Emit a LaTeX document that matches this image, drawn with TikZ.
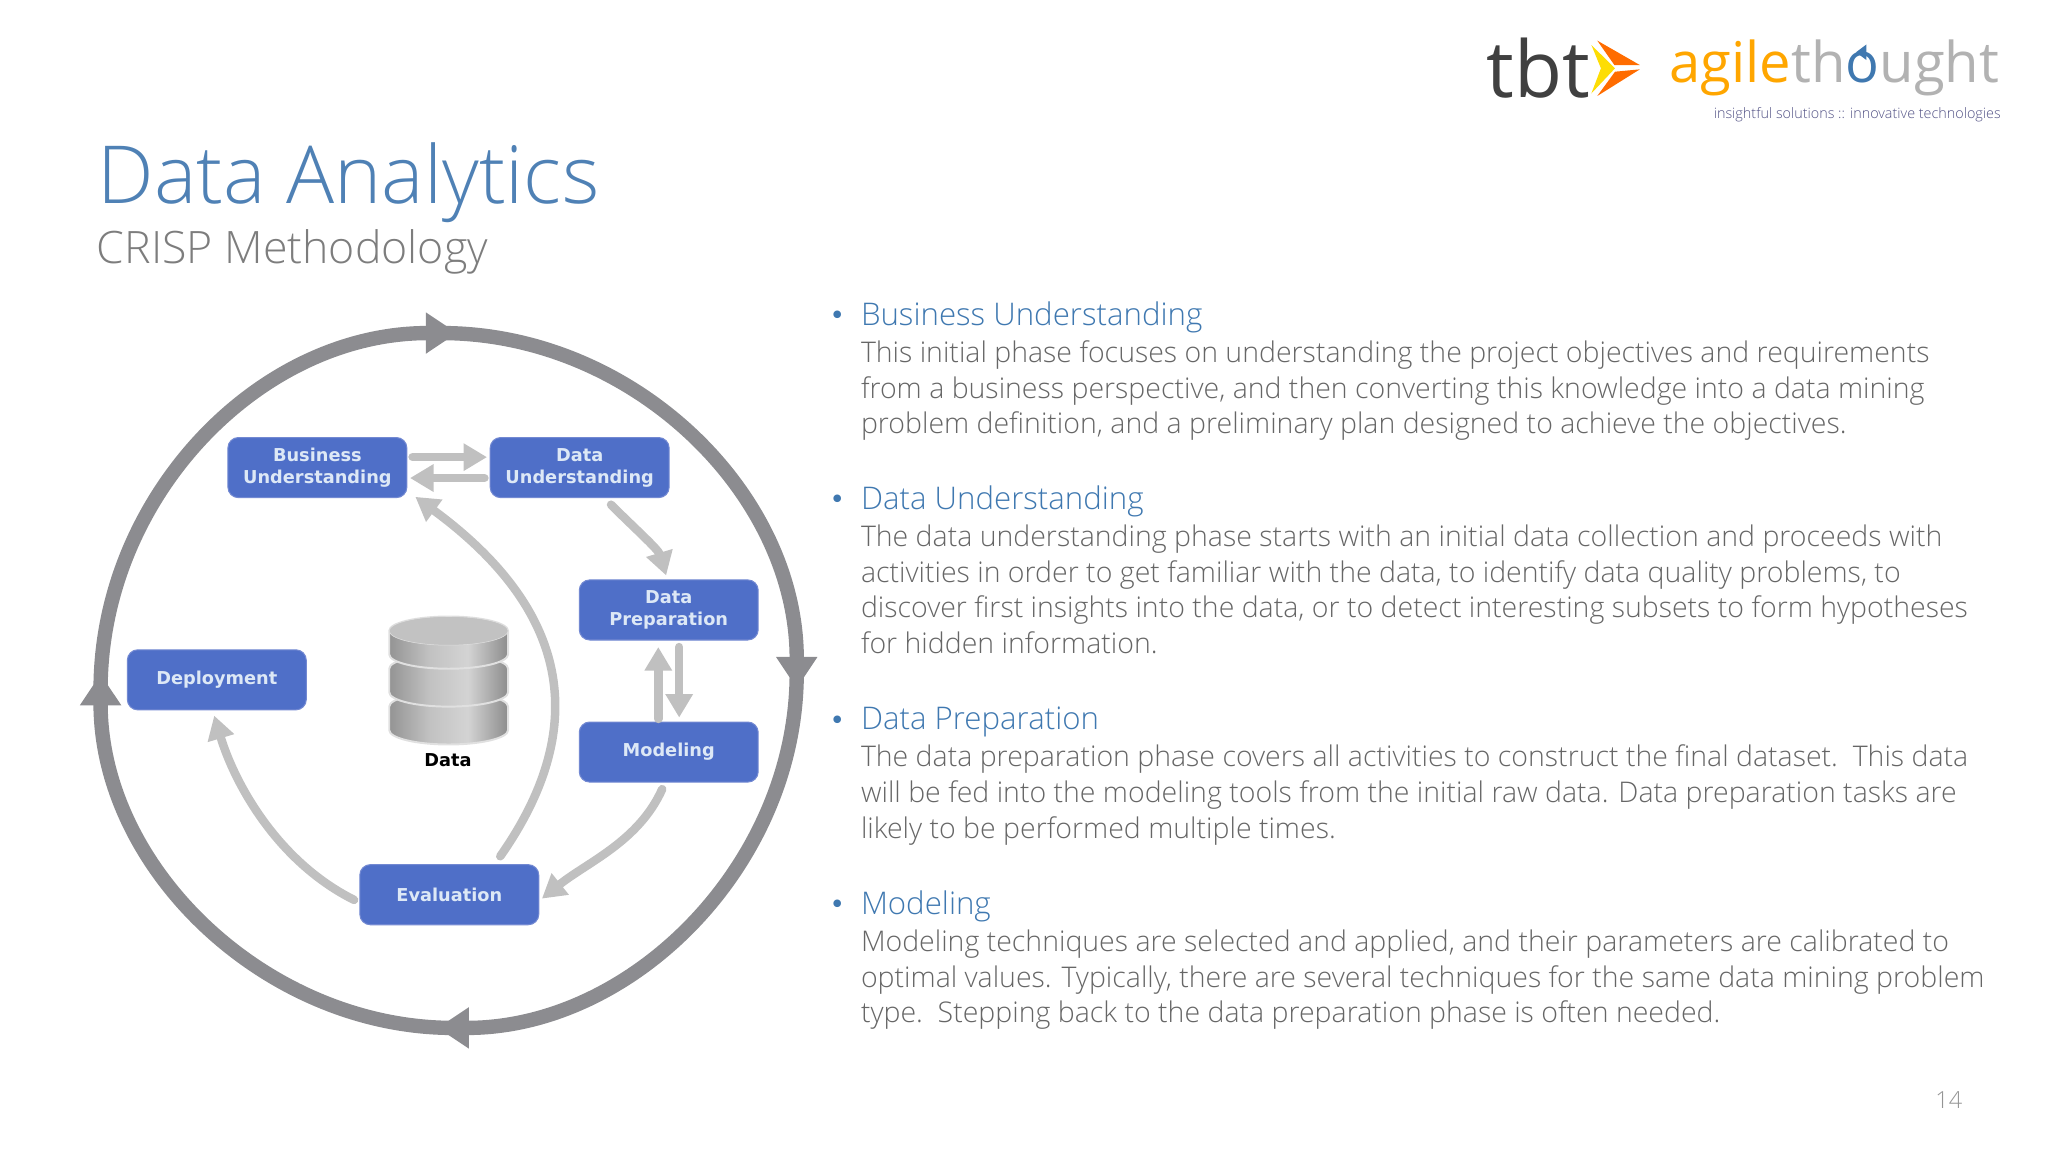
\documentclass[tikz,border=0pt]{standalone}
\usepackage{fontspec}
\setmainfont{Open Sans Light}
\newfontfamily\boxfont{DejaVu Sans}
\newfontfamily\logofont{Open Sans}
\usetikzlibrary{arrows.meta,positioning,calc}
\definecolor{ringgray}{HTML}{8C8C90}
\definecolor{flowgray}{HTML}{C0C0C0}
\definecolor{phaseblue}{HTML}{4F6FC8}
\definecolor{phaseedge}{HTML}{7389D2}
\definecolor{phasetext}{HTML}{DDE8F6}
\definecolor{titleblue}{HTML}{4F81B5}
\definecolor{headblue}{HTML}{3F78B0}
\definecolor{bodygray}{HTML}{666666}
\pgfdeclarehorizontalshading{drum}{100bp}{color(0bp)=(black!42); color(25bp)=(black!42); color(42bp)=(black!24); color(58bp)=(black!17); color(75bp)=(black!45); color(100bp)=(black!45)}
\tikzset{
    every node/.style={font=\rmfamily},
    phase/.style={draw=phaseedge,fill=phaseblue,rounded corners=8pt,thick,
        minimum width=137pt,minimum height=46pt,inner sep=0pt,align=center,
        text=phasetext,font=\boxfont\bfseries\fontsize{13.6}{17}\selectfont},
    drumband/.style={shade,shading=drum,draw=black!12,line width=1.5pt},
    topichead/.style={anchor=west,inner sep=0pt,text=headblue,font=\fontsize{23.9}{30}\selectfont},
    topicbody/.style={anchor=north west,inner sep=0pt,align=left,text=bodygray,font=\fontsize{21.8}{27.3}\selectfont},
    topicdot/.style={inner sep=0pt,text=headblue,font=\boxfont\fontsize{20}{24}\selectfont},
    ringarrow/.style={draw=ringgray,line width=11pt,-{Triangle[length=24pt,width=30pt]}},
    flow/.style={draw=flowgray,line width=6.5pt,line cap=round,-{Triangle[length=18pt,width=20pt]}}
}
\begin{document}
\begin{tikzpicture}[
            x = 1pt,
            y = -1pt, % same numbers as the reference, y going down
            node distance = 63pt
        ]

        \useasboundingbox (0,0) rectangle (1568,882);

        % title
        \node[anchor=west,inner sep=0pt,text=titleblue,font=\fontsize{61.3}{70}\selectfont] (title) at (74.5,140) {Data Analytics};
        \node[anchor=west,inner sep=0pt,text=bodygray!85,font=\fontsize{34.2}{40}\selectfont] (subtitle) at (74,193) {CRISP Methodology};

        % logos
        \node[anchor=west,inner sep=0pt,text=black!75,font=\logofont\fontsize{60}{66}\selectfont] (tbt) at (1138,52) {tbt};
        \fill[yellow!80!orange] (1218.4,34.5) -- (1236.5,52.3) -- (1218.4,71.5) -- (1225.7,52.3) -- cycle;
        \fill[orange!85!red] (1222.9,31.1) -- (1255.5,49.8) -- (1236,49.8) -- cycle;
        \fill[orange!85!red] (1255.5,53.1) -- (1222.9,73.5) -- (1236.5,54.9) -- cycle;
        \node[anchor=west,inner sep=0pt,font=\logofont\fontsize{43}{50}\selectfont] (agile) at (1278,52)
            {\textcolor{orange!70!yellow}{agile}\textcolor{black!30}{th}\textcolor{headblue}{o}\textcolor{black!30}{ught}};
        \fill[headblue] (1421,40) -- (1429,34) -- (1429,46) -- cycle;
        \node[anchor=east,inner sep=0pt,text=bodygray!80!blue,font=\fontsize{11}{13}\selectfont] (tagline) at (1532,88)
            {insightful solutions :: innovative technologies};

        % phases
        \node[phase] (bu) at (243,358) {Business\\Understanding};
        \node[phase] (du) [right=of bu] {Data\\Understanding};
        \node[phase] (dp) at (512,467) {Data\\Preparation};
        \node[phase] (mo) [below=62pt of dp] {Modeling};
        \node[phase] (ev) at (344,685) {Evaluation};
        \node[phase] (de) at (166,520.5) {Deployment};

        % data drum
        \path[drumband]
            (298,541) -- (298,559) arc[start angle=180,end angle=0,x radius=45.5,y radius=11] -- (389,541)
            arc[start angle=0,end angle=-180,x radius=45.5,y radius=11] -- cycle;
        \path[drumband]
            (298,512) -- (298,530) arc[start angle=180,end angle=0,x radius=45.5,y radius=11] -- (389,512)
            arc[start angle=0,end angle=-180,x radius=45.5,y radius=11] -- cycle;
        \path[drumband]
            (298,483) -- (298,501) arc[start angle=180,end angle=0,x radius=45.5,y radius=11] -- (389,483)
            arc[start angle=0,end angle=-180,x radius=45.5,y radius=11] -- cycle;
        \fill[black!24,draw=black!12] (343.5,483) ellipse [x radius=45.5,y radius=11];
        \node[inner sep=0pt,font=\boxfont\bfseries\fontsize{13.6}{17}\selectfont] (data) at (343,582) {Data};

        % outer ring
        \coordinate (ringtop) at (350,255);
        \coordinate (ringright) at (610,527);
        \coordinate (ringbottom) at (335,787);
        \coordinate (ringleft) at (77,516);
        \path[ringarrow] ([yshift=-12pt]ringleft) .. controls +(0,-147) and +(-152,0) .. (ringtop);
        \path[ringarrow] ([xshift=-12pt]ringtop) .. controls +(146,0) and +(0,-150) .. (ringright);
        \path[ringarrow] ([yshift=12pt]ringright) .. controls +(0,146) and +(150,0) .. (ringbottom);
        \path[ringarrow] ([xshift=12pt]ringbottom) .. controls +(-142,0) and +(0,150) .. (ringleft);

        % flow between phases
        \path[flow] ([yshift=8pt,xshift=4pt]bu.east) -- ([yshift=8pt,xshift=-2pt]du.west);
        \path[flow] ([yshift=-8pt,xshift=-4pt]du.west) -- ([yshift=-8pt,xshift=2pt]bu.east);
        \path[flow] ([xshift=24pt,yshift=-5pt]du.south) .. controls +(18,18) and +(-6,-20) .. ([xshift=-2pt,yshift=3pt]dp.north);
        \path[flow] ([xshift=-8pt,yshift=-60pt]dp.south) -- ([xshift=-8pt,yshift=-5pt]dp.south);
        \path[flow] ([xshift=8pt,yshift=-5pt]dp.south) -- ([xshift=8pt,yshift=3pt]mo.north);
        \path[flow] ([xshift=-5pt,yshift=-5pt]mo.south) .. controls +(-18,40) and +(35,-28) .. ([xshift=2pt,yshift=-3pt]ev.east);
        \path[flow] ([xshift=-4pt,yshift=-4pt]ev.west) .. controls +(-60,-30) and +(15,50) .. ([xshift=-2pt,yshift=-4pt]de.south);
        \path[flow] ([xshift=39pt,yshift=6pt]ev.north) .. controls (450,560) and (440,470) .. ([xshift=75pt,yshift=1pt]bu.south);

        % topics
        \node[topicdot] (dot1) at (641,243) {•};
        \node[topichead] (head1) at (659,243) {Business Understanding};
        \node[topicbody,below=5.5pt of head1.south west,anchor=north west] (body1)
            {This initial phase focuses on understanding the project objectives and requirements\\
             from a business perspective, and then converting this knowledge into a data mining\\
             problem definition, and a preliminary plan designed to achieve the objectives.};

        \node[topicdot] (dot2) at (641,384) {•};
        \node[topichead] (head2) at (659,384) {Data Understanding};
        \node[topicbody,below=5.5pt of head2.south west,anchor=north west] (body2)
            {The data understanding phase starts with an initial data collection and proceeds with\\
             activities in order to get familiar with the data, to identify data quality problems, to\\
             discover first insights into the data, or to detect interesting subsets to form hypotheses\\
             for hidden information.};

        \node[topicdot] (dot3) at (641,553) {•};
        \node[topichead] (head3) at (659,553) {Data Preparation};
        \node[topicbody,below=5.5pt of head3.south west,anchor=north west] (body3)
            {The data preparation phase covers all activities to construct the final dataset.\ \ This data\\
             will be fed into the modeling tools from the initial raw data. Data preparation tasks are\\
             likely to be performed multiple times.};

        \node[topicdot] (dot4) at (641,694) {•};
        \node[topichead] (head4) at (659,694) {Modeling};
        \node[topicbody,below=5.5pt of head4.south west,anchor=north west] (body4)
            {Modeling techniques are selected and applied, and their parameters are calibrated to\\
             optimal values. Typically, there are several techniques for the same data mining problem\\
             type.\ \ Stepping back to the data preparation phase is often needed.};

        \node[inner sep=0pt,text=bodygray!70,font=\fontsize{18}{20}\selectfont] (pagenum) at (1492,842) {14};

  \end{tikzpicture}
\end{document}
